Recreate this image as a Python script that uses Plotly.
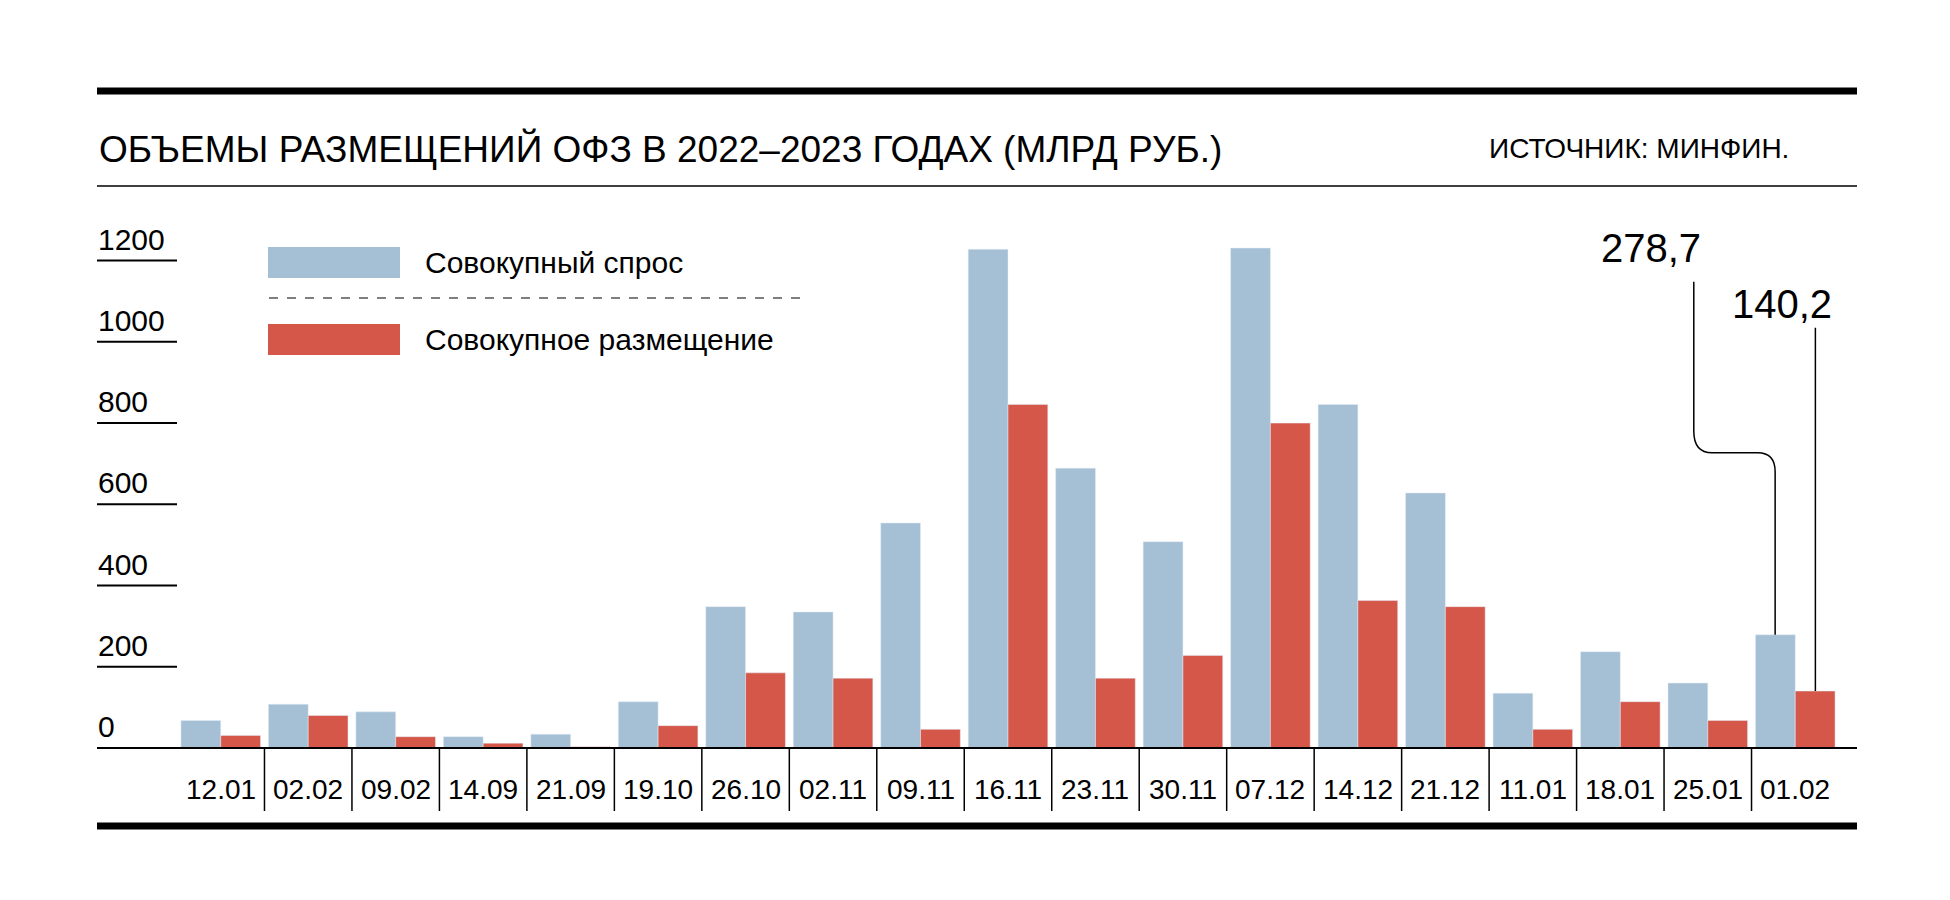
import plotly.graph_objects as go

categories = ['12.01', '02.02', '09.02', '14.09', '21.09', '19.10', '26.10', '02.11', '09.11', '16.11',
              '23.11', '30.11', '07.12', '14.12', '21.12', '11.01', '18.01', '25.01', '01.02']
demand = [68, 108, 89, 28, 34, 114, 348, 335, 554, 1228, 689, 508, 1231, 846, 628, 135, 237, 160, 278.7]
placement = [31, 80, 28, 12, 3, 55, 185, 172, 46, 846, 172, 228, 800, 363, 348, 46, 114, 68, 140.2]
y_ticks = [0, 200, 400, 600, 800, 1000, 1200]

BLUE = '#a5bfd4'
RED = '#d5574a'
FONT = 'Liberation Sans Narrow, Arial Narrow, Liberation Sans, Arial, sans-serif'

# page offset of the figure in the browser
OX, OY = 9, 7
# plot area in pixels (reference coords)
L, R, T, B = 178 - OX, 1840 - OX, 219 - OY, 747 - OY
W, H = R - L, B - T


def px(x):
    return (x - OX - L) / W


def py(y):
    return (B - (y - OY)) / H


idx = list(range(len(categories)))
fig = go.Figure()
fig.add_trace(go.Bar(x=idx, y=demand, marker_color=BLUE, name='Совокупный спрос'))
fig.add_trace(go.Bar(x=idx, y=placement, marker_color=RED, name='Совокупное размещение'))

shapes = []
ann = []


def text(x, y, s, size, xanchor='left', xref='paper', yref='paper', **kw):
    ann.append(dict(xref=xref, yref=yref, x=x, y=y, text=s, showarrow=False, xanchor=xanchor,
                    font=dict(family=FONT, size=size, color='black'), **kw))


# frame lines
for yy, w in [(90, 7), (185, 1.5), (825, 7)]:
    shapes.append(dict(type='line', xref='paper', yref='paper', x0=px(98), x1=px(1858), y0=py(yy), y1=py(yy),
                       line=dict(color='black', width=w)))
shapes.append(dict(type='line', xref='paper', yref='paper', x0=px(98), x1=px(1858), y0=0, y1=0,
                   line=dict(color='black', width=2)))

# y ticks
for v in y_ticks:
    if v > 0:
        shapes.append(dict(type='line', xref='paper', yref='y', x0=px(98), x1=px(178), y0=v, y1=v,
                           line=dict(color='black', width=2)))
    text(px(97), v, str(v), 30, yref='y', yanchor='bottom', yshift=3)

# category separators and labels
for i, c in enumerate(categories):
    if i > 0:
        shapes.append(dict(type='line', xref='x', yref='paper', x0=i - 0.5, x1=i - 0.5, y0=0, y1=py(810),
                           line=dict(color='black', width=1.5)))
    text(i, py(788), c, 28, xanchor='center', xref='x', yanchor='middle')

# title
text(px(98), py(148), 'ОБЪЕМЫ РАЗМЕЩЕНИЙ ОФЗ В 2022–2023 ГОДАХ (МЛРД РУБ.)', 37, yanchor='middle')
text(px(1488), py(148), 'ИСТОЧНИК: МИНФИН.', 28, yanchor='middle')

# legend
shapes.append(dict(type='rect', xref='paper', yref='paper', x0=px(269), x1=px(401), y0=py(246), y1=py(277),
                   fillcolor=BLUE, line=dict(width=0)))
shapes.append(dict(type='rect', xref='paper', yref='paper', x0=px(269), x1=px(401), y0=py(323), y1=py(354),
                   fillcolor=RED, line=dict(width=0)))
shapes.append(dict(type='line', xref='paper', yref='paper', x0=px(270), x1=px(810), y0=py(297), y1=py(297),
                   line=dict(color='black', width=1.2, dash='dash')))
text(px(424), py(261), 'Совокупный спрос', 30, yanchor='middle')
text(px(424), py(338), 'Совокупное размещение', 30, yanchor='middle')

# callouts for last date
n = len(categories) - 1
xb, xr = n - 0.23, n + 0.23
shapes.append(dict(type='path', xref='x', yref='y',
                   path=f'M {n-1.16},1148 L {n-1.16},780 Q {n-1.16},727 {n-0.95},727 L {xb-0.2},727 '
                        f'Q {xb},727 {xb},680 L {xb},{demand[-1]}',
                   line=dict(color='black', width=1.5)))
shapes.append(dict(type='line', xref='x', yref='y', x0=xr, x1=xr, y0=1035, y1=placement[-1],
                   line=dict(color='black', width=1.5)))
text(n - 1.65, 1231, '278,7', 40, xanchor='center', xref='x', yref='y', yanchor='middle')
text(n - 0.15, 1092, '140,2', 40, xanchor='center', xref='x', yref='y', yanchor='middle')

fig.update_layout(
    width=1950, height=900,
    margin=dict(l=L, r=1950 - R, t=T, b=900 - B),
    paper_bgcolor='white', plot_bgcolor='white',
    barmode='group', bargap=0.09, bargroupgap=0,
    showlegend=False,
    shapes=shapes, annotations=ann,
    xaxis=dict(range=[-0.5, n + 0.5], showticklabels=False, showgrid=False, zeroline=False, ticks=''),
    yaxis=dict(range=[0, 1300], showticklabels=False, showgrid=False, zeroline=False),
)

fig.write_html('out.html')
